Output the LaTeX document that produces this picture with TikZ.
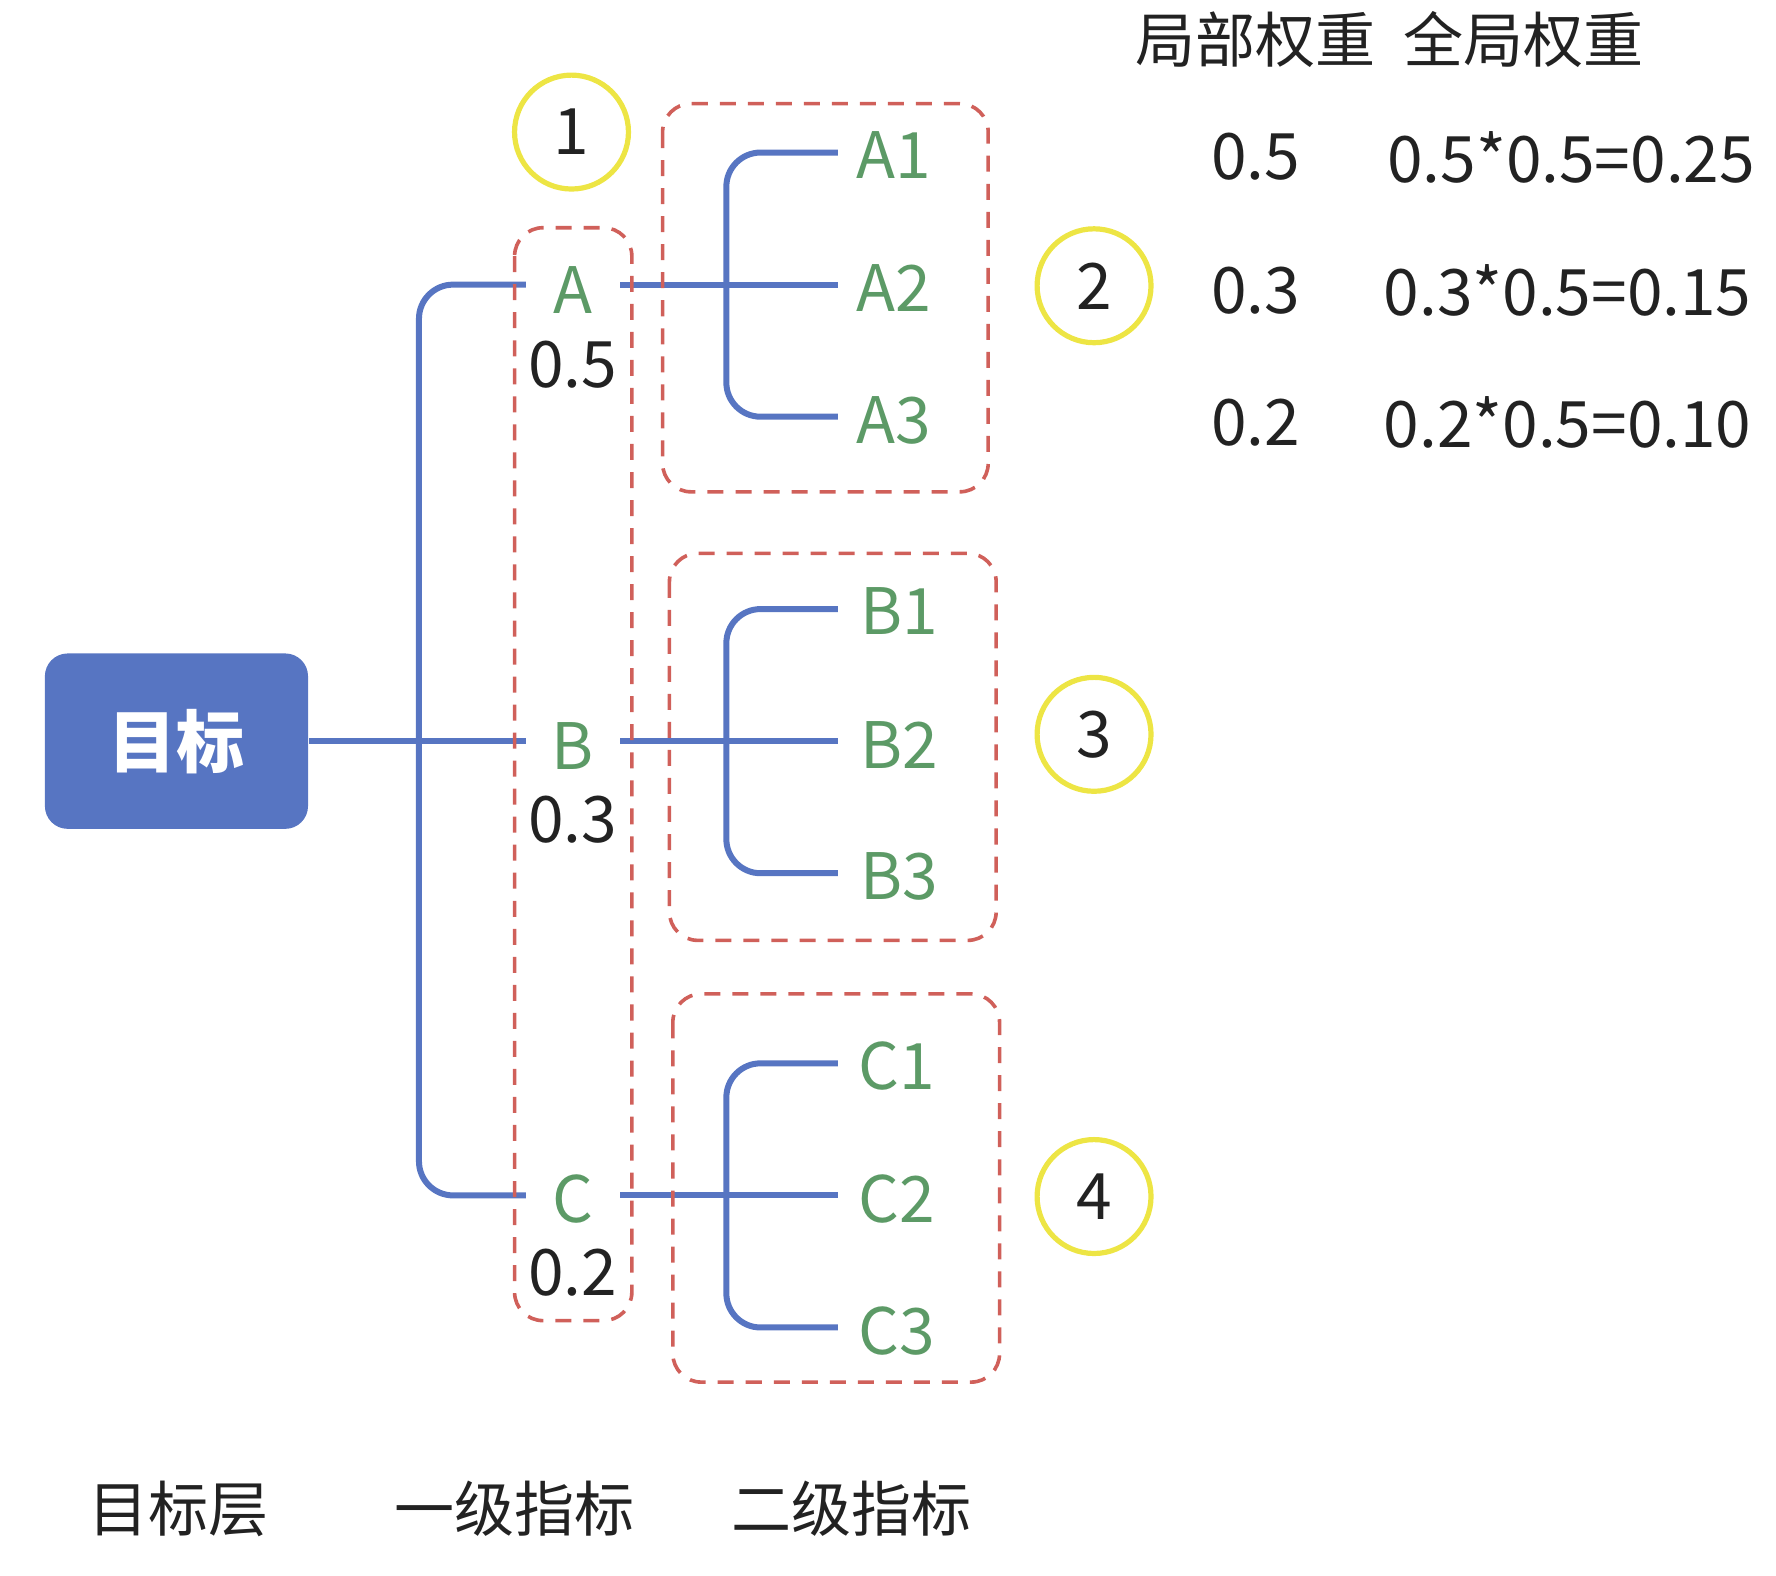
\documentclass[tikz,border=0pt]{standalone}
\usepackage{fontspec}
\setmainfont{Noto Sans CJK SC}
\definecolor{blu}{HTML}{5775C2}
\definecolor{gr}{HTML}{5C9A66}
\definecolor{rd}{HTML}{D0605A}
\definecolor{yl}{HTML}{EDE544}
\definecolor{dk}{HTML}{222222}
\begin{document}
\begin{tikzpicture}[x=0.01cm,y=-0.01cm,
  ln/.style={blu,line width=1.5pt,rounded corners=0.3cm},
  g/.style={gr,font=\fontsize{16}{18}\selectfont,inner sep=1pt},
  t/.style={dk,font=\fontsize{16}{18}\selectfont,inner sep=1pt},
  h/.style={dk,font=\fontsize{15}{18}\selectfont,inner sep=1pt},
  db/.style={rd,line width=0.9pt,dash pattern=on 4pt off 3pt,rounded corners=0.25cm},
  yc/.style={yl,line width=1.3pt,circle,minimum size=1.0cm,inner sep=0pt,text=dk,font=\fontsize{16}{18}\selectfont}]
\useasboundingbox (0,0) rectangle (1560,1384);
\node[fill=blu,rounded corners=0.2cm,minimum width=2.31cm,minimum height=1.54cm,text=white,font=\fontsize{17}{20}\selectfont\bfseries] (goal) at (155,651) {目标};
% first level
\node[g] (A) at (503,255) {A}; \node[t] (a) at (503,320) {0.5};
\node[g] (B) at (503,655) {B}; \node[t] (b) at (503,720) {0.3};
\node[g] (C) at (503,1053) {C}; \node[t] (c) at (503,1118) {0.2};
\coordinate (Ain) at (462,250); \coordinate (Bin) at (462,651); \coordinate (Cin) at (462,1050);
\draw[ln] (goal.east |- Bin) -- (Bin);
\draw[ln] (Ain) -- (368,250) -- (368,1050) -- (Cin);
% second level
\foreach \L/\y/\x in {A/250/785, B/651/790, C/1050/788}{
  \node[g] (\L1) at (\x,\y-114) {\L1};
  \node[g] (\L2) at (\x,\y+3) {\L2};
  \node[g] (\L3) at (\x,\y+119) {\L3};
  \coordinate (\L o) at (545,\y);
  \coordinate (\L t) at (736,\y-116);
  \coordinate (\L m) at (736,\y);
  \coordinate (\L b) at (736,\y+116);
  \draw[ln] (\L o) -- (\L m);
  \draw[ln] (\L t) -- (638,\y-116) -- (638,\y+116) -- (\L b);
}
% dashed boxes
\draw[db] (452,200) rectangle (555,1160);
\draw[db] (582,91) rectangle (868,432);
\draw[db] (588,486) rectangle (875,826);
\draw[db] (591,873) rectangle (878,1214);
% circles
\node[yc,draw] (n1) at (502,116) {1};
\node[yc,draw] (n2) at (961,251) {2};
\node[yc,draw] (n3) at (961,645) {3};
\node[yc,draw] (n4) at (961,1051) {4};
% table
\node[h] (h1) at (1103,35) {局部权重};
\node[h] (h2) at (1338,35) {全局权重};
\node[t] (l1) at (1103,138) {0.5};
\node[t] (l2) at (1103,255) {0.3};
\node[t] (l3) at (1103,371) {0.2};
\node[t] (g1) at (1380,138) {0.5*0.5=0.25};
\node[t] (g2) at (1377,255) {0.3*0.5=0.15};
\node[t] (g3) at (1377,371) {0.2*0.5=0.10};
% bottom
\node[h] (f1) at (157,1325) {目标层};
\node[h] (f2) at (452,1325) {一级指标};
\node[h] (f3) at (748,1325) {二级指标};
\end{tikzpicture}
\end{document}
